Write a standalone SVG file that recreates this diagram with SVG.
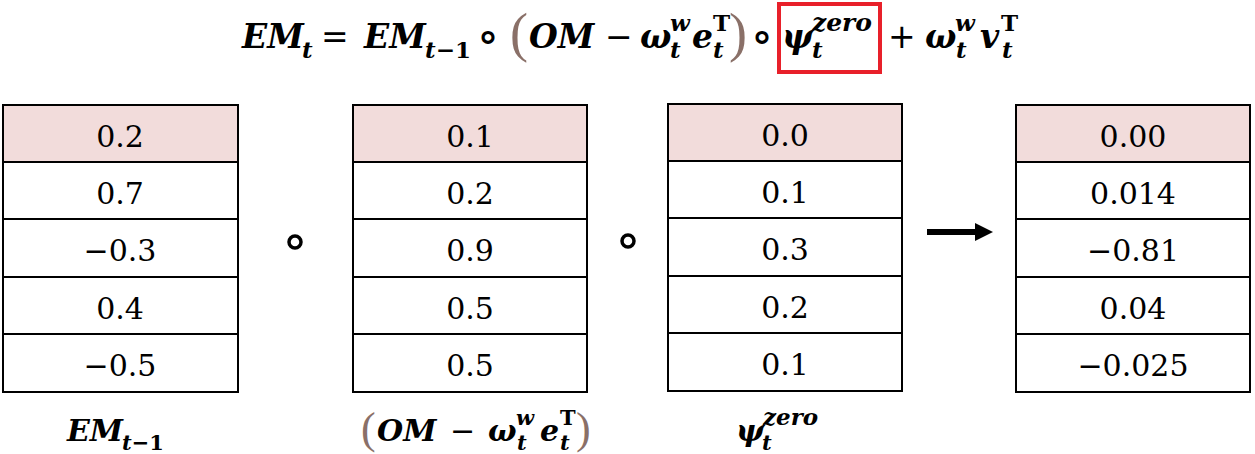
<svg xmlns="http://www.w3.org/2000/svg" width="1255" height="454" viewBox="0 0 1255 454">
<defs>
<style>
.m{font-family:"DejaVu Serif","Liberation Serif",serif;font-weight:bold;font-style:italic;fill:#000}
.big{font-size:33px}
.sm{font-size:23px}
.lb{font-size:30px}
.lbs{font-size:21px}
.up{font-style:normal}
.op{font-family:"DejaVu Sans","Liberation Sans",sans-serif;font-weight:normal;font-style:normal;fill:#000}
.ring{font-family:"DejaVu Sans","Liberation Sans",sans-serif;font-weight:bold;font-style:normal;fill:#000;text-anchor:middle}
.par{font-family:"Liberation Serif",serif;font-weight:normal;font-style:normal;fill:#8a7068}
.cell{stroke:#000;stroke-width:2}
.hi{fill:#f2dcdb}
.wh{fill:#fff}
.num{font-family:"DejaVu Serif","Liberation Serif",serif;font-size:30px;fill:#000;text-anchor:middle}
</style>
<marker id="ah" viewBox="0 0 10 10" refX="0" refY="5" markerWidth="3" markerHeight="3" orient="auto" markerUnits="strokeWidth"><path d="M0,0 L10,5 L0,10 z" fill="#000"/></marker>
</defs>
<rect width="1255" height="454" fill="#fff"/>

<g id="equation">
<text class="m big" x="242" y="48">EM</text>
<text class="m sm" x="302" y="58">t</text>
<text class="op" x="321" y="48" style="font-size:33px">=</text>
<text class="m big" x="364" y="48">EM</text>
<text class="m sm" x="425" y="58">t<tspan class="up">−1</tspan></text>
<text class="ring" x="488" y="50" style="font-size:40px">∘</text>
<text class="par" x="510" y="51" style="font-size:54px">(</text>
<text class="m big" x="529" y="48">OM</text>
<text class="op" x="605" y="48" style="font-size:33px">−</text>
<text class="m big" x="640" y="48">ω</text>
<text class="m sm" x="670" y="31">w</text>
<text class="m sm" x="670" y="58">t</text>
<text class="m big" x="692" y="48">e</text>
<text class="m sm up" x="713" y="31">T</text>
<text class="m sm" x="713" y="58">t</text>
<text class="par" x="729" y="51" style="font-size:54px">)</text>
<text class="ring" x="762" y="50" style="font-size:40px">∘</text>
<text class="m big" x="782" y="48">ψ</text>
<text class="m sm" x="812" y="31" style="font-size:25px">zero</text>
<text class="m sm" x="812" y="58">t</text>
<text class="op" x="888" y="48" style="font-size:33px">+</text>
<text class="m big" x="925" y="48">ω</text>
<text class="m sm" x="955" y="31">w</text>
<text class="m sm" x="956" y="58">t</text>
<text class="m big" x="980" y="48">v</text>
<text class="m sm up" x="1001" y="31">T</text>
<text class="m sm" x="1002" y="58">t</text>
<rect x="779" y="4" width="101" height="68" fill="none" stroke="#e8202a" stroke-width="4"/>
</g>

<g id="table-em">
<rect class="cell hi" x="3" y="105" width="235" height="57"/>
<rect class="cell wh" x="3" y="162" width="235" height="57"/>
<rect class="cell wh" x="3" y="219" width="235" height="58"/>
<rect class="cell wh" x="3" y="277" width="235" height="57"/>
<rect class="cell wh" x="3" y="334" width="235" height="58"/>
<text class="num" x="120" y="147">0.2</text>
<text class="num" x="120" y="204">0.7</text>
<text class="num" x="120" y="261">−0.3</text>
<text class="num" x="120" y="319">0.4</text>
<text class="num" x="120" y="376">−0.5</text>
</g>

<g id="table-om">
<rect class="cell hi" x="353" y="105" width="234" height="57"/>
<rect class="cell wh" x="353" y="162" width="234" height="57"/>
<rect class="cell wh" x="353" y="219" width="234" height="58"/>
<rect class="cell wh" x="353" y="277" width="234" height="57"/>
<rect class="cell wh" x="353" y="334" width="234" height="58"/>
<text class="num" x="470" y="147">0.1</text>
<text class="num" x="470" y="204">0.2</text>
<text class="num" x="470" y="261">0.9</text>
<text class="num" x="470" y="319">0.5</text>
<text class="num" x="470" y="376">0.5</text>
</g>

<g id="table-psi">
<rect class="cell hi" x="668" y="104" width="234" height="57"/>
<rect class="cell wh" x="668" y="161" width="234" height="57"/>
<rect class="cell wh" x="668" y="218" width="234" height="58"/>
<rect class="cell wh" x="668" y="276" width="234" height="57"/>
<rect class="cell wh" x="668" y="333" width="234" height="58"/>
<text class="num" x="785" y="146">0.0</text>
<text class="num" x="785" y="203">0.1</text>
<text class="num" x="785" y="260">0.3</text>
<text class="num" x="785" y="318">0.2</text>
<text class="num" x="785" y="375">0.1</text>
</g>

<g id="table-result">
<rect class="cell hi" x="1016" y="105" width="234" height="57"/>
<rect class="cell wh" x="1016" y="162" width="234" height="57"/>
<rect class="cell wh" x="1016" y="219" width="234" height="58"/>
<rect class="cell wh" x="1016" y="277" width="234" height="57"/>
<rect class="cell wh" x="1016" y="334" width="234" height="58"/>
<text class="num" x="1133" y="147">0.00</text>
<text class="num" x="1133" y="204">0.014</text>
<text class="num" x="1133" y="261">−0.81</text>
<text class="num" x="1133" y="319">0.04</text>
<text class="num" x="1133" y="376">−0.025</text>
</g>

<g id="operators">
<circle cx="295" cy="242" r="6" fill="none" stroke="#000" stroke-width="3.5"/>
<circle cx="628" cy="241" r="6" fill="none" stroke="#000" stroke-width="3.5"/>
</g>

<g id="connectors">
<line x1="927" y1="232" x2="975" y2="232" stroke="#000" stroke-width="6" marker-end="url(#ah)"/>
</g>

<g id="labels">
<text class="m lb" x="67" y="441">EM</text>
<text class="m lbs" x="122" y="450">t<tspan class="up">−1</tspan></text>
<text class="par" x="361" y="443" style="font-size:44px">(</text>
<text class="m lb" x="377" y="441">OM</text>
<text class="op" x="450" y="441" style="font-size:30px">−</text>
<text class="m lb" x="488" y="441">ω</text>
<text class="m lbs" x="516" y="425">w</text>
<text class="m lbs" x="517" y="450">t</text>
<text class="m lb" x="540" y="441">e</text>
<text class="m lbs up" x="560" y="425">T</text>
<text class="m lbs" x="560" y="450">t</text>
<text class="par" x="576" y="443" style="font-size:44px">)</text>
<text class="m lb" x="736" y="441">ψ</text>
<text class="m lbs" x="763" y="425" style="font-size:23px">zero</text>
<text class="m lbs" x="762" y="450">t</text>
</g>
</svg>
